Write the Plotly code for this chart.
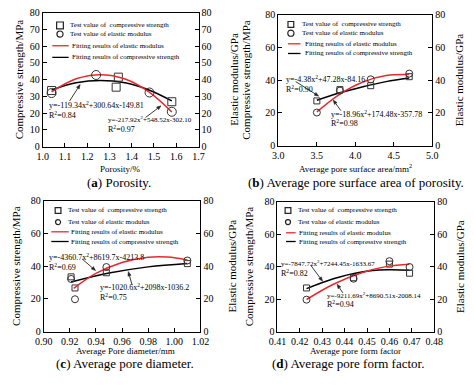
import math
import plotly.graph_objects as go

W, H = 474, 389
FONT = "Liberation Serif"
RED = "#e8282f"

# ---------------- data ----------------
# (a) Porosity
a_cs_x = [1.04, 1.33, 1.34, 1.58]
a_cs_y = [33.5, 35.5, 41.5, 26.8]
a_em_x = [1.04, 1.24, 1.48, 1.58]
a_em_y = [32.0, 42.8, 32.3, 20.8]
a_fit_em_x = [1.04, 1.15, 1.26, 1.37, 1.48, 1.58]
a_fit_em_y = [32.7, 40.5, 43.0, 40.4, 32.4, 20.6]
a_fit_cs_x = [1.04, 1.15, 1.26, 1.37, 1.48, 1.58]
a_fit_cs_y = [33.8, 38.1, 39.5, 38.1, 33.7, 27.3]

# (b) Average pore surface area
b_cs_x = [3.5, 3.8, 4.2, 4.7]
b_cs_y = [27.3, 34.2, 36.6, 42.1]
b_em_x = [3.5, 3.8, 4.2, 4.7]
b_em_y = [20.2, 33.6, 40.5, 44.0]
b_fit_em_x = [3.5, 3.8, 4.1, 4.4, 4.7]
b_fit_em_y = [20.6, 31.5, 38.9, 42.8, 43.4]
b_fit_cs_x = [3.5, 3.8, 4.1, 4.4, 4.7]
b_fit_cs_y = [27.7, 32.3, 36.0, 39.1, 41.3]

# (c) Average pore diameter
c_cs_x = [0.921, 0.924, 0.948, 1.01]
c_cs_y = [33.5, 26.7, 36.0, 41.6]
c_em_x = [0.921, 0.924, 0.948, 1.01]
c_em_y = [32.2, 19.8, 39.5, 43.5]
c_fit_em_x = [0.923, 0.94, 0.96, 0.98, 0.995, 1.01]
c_fit_em_y = [26.5, 35.6, 42.3, 45.5, 45.6, 43.8]
c_fit_cs_x = [0.921, 0.95, 0.98, 1.01]
c_fit_cs_y = [30.3, 35.8, 39.6, 41.7]

# (d) Average pore form factor
d_cs_x = [0.423, 0.444, 0.46, 0.469]
d_cs_y = [26.9, 33.2, 41.6, 36.0]
d_em_x = [0.423, 0.444, 0.46, 0.469]
d_em_y = [19.7, 32.6, 43.4, 39.8]
d_fit_em_x = [0.423, 0.435, 0.447, 0.459, 0.469]
d_fit_em_y = [19.8, 29.2, 36.0, 40.2, 41.5]
d_fit_cs_x = [0.423, 0.435, 0.447, 0.459, 0.469]
d_fit_cs_y = [26.5, 32.6, 36.6, 38.1, 37.8]

legend_labels = ["Test value of\u00a0 compressive strength",
                 "Test value of elastic modulus",
                 "Fitting results of elastic modulus",
                 "Fitting results of compressive strength"]

x_titles = ["Porosity/%", "Average pore surface area/mm<sup>2</sup>",
            "Average Pore diameter/mm", "Average pore form factor"]
captions = ["(<b>a</b>) Porosity.", "(<b>b</b>) Average pore surface area of porosity.",
            "(<b>c</b>) Average pore diameter.", "(<b>d</b>) Average pore form factor."]
equations = [
    ["y=-119.34x<sup>2</sup>+300.64x-149.81", "R<sup>2</sup>=0.84",
     "y=-217.92x<sup>2</sup>+548.52x-302.10", "R<sup>2</sup>=0.97"],
    ["y=-4.38x<sup>2</sup>+47.28x-84.16", "R<sup>2</sup>=0.90",
     "y=-18.96x<sup>2</sup>+174.48x-357.78", "R<sup>2</sup>=0.98"],
    ["y=-4360.7x<sup>2</sup>+8619.7x-4213.8", "R<sup>2</sup>=0.69",
     "y=-1020.6x<sup>2</sup>+2098x-1036.2", "R<sup>2</sup>=0.75"],
    ["y=-7847.72x<sup>2</sup>+7244.45x-1633.67", "R<sup>2</sup>=0.82",
     "y=-9211.69x<sup>2</sup>+8690.51x-2008.14", "R<sup>2</sup>=0.94"],
]
x_ranges = [[1.0, 1.7], [3.0, 5.0], [0.90, 1.02], [0.41, 0.48]]
x_dticks = [0.1, 0.5, 0.02, 0.01]
x_fmts = [".1f", ".1f", ".2f", ".2f"]
y_dticks = [10, 20, 20, 20]

# ---------------- layout geometry (pixels) ----------------
boxes = [(35, 197, 7, 145), (280, 440, 9, 144), (36, 199, 201, 336), (279, 442, 202, 336)]
marker_sizes = [8, 6, 6, 6]
left_title_x = [10, 247, 8, 249]
right_title_x = [234, 468, 232, 468]
xtitle_pos = [(116, 168), (360, 167), (121, 356), (360, 356)]
caption_pos = [(114, 182), (361, 182), (121, 369), (352, 369)]


def px(x):
    return x / W


def py(y):
    return 1 - y / H


panels = [
    (a_cs_x, a_cs_y, a_em_x, a_em_y, a_fit_em_x, a_fit_em_y, a_fit_cs_x, a_fit_cs_y),
    (b_cs_x, b_cs_y, b_em_x, b_em_y, b_fit_em_x, b_fit_em_y, b_fit_cs_x, b_fit_cs_y),
    (c_cs_x, c_cs_y, c_em_x, c_em_y, c_fit_em_x, c_fit_em_y, c_fit_cs_x, c_fit_cs_y),
    (d_cs_x, d_cs_y, d_em_x, d_em_y, d_fit_em_x, d_fit_em_y, d_fit_cs_x, d_fit_cs_y),
]

fig = go.Figure()
layout = dict(
    width=W, height=H, margin=dict(l=0, r=0, t=0, b=0),
    paper_bgcolor="white", plot_bgcolor="white", showlegend=False,
    font=dict(family=FONT, color="black", size=10),
)
annotations = []
shapes = []

for i, (cx, cy, ex, ey, fex, fey, fcx, fcy) in enumerate(panels):
    n = i + 1
    xa = "x" if n == 1 else f"x{n}"
    yl = 2 * n - 1
    yr = 2 * n
    yla = "y" if yl == 1 else f"y{yl}"
    yra = f"y{yr}"
    l, r, t, b = boxes[i]
    ms = marker_sizes[i]
    # compressive strength -> left axis (MPa); elastic modulus -> right axis (GPa)
    fig.add_trace(go.Scatter(x=fcx, y=fcy, mode="lines", line=dict(color="black", width=1.5, shape="spline"),
                             xaxis=xa, yaxis=yla))
    fig.add_trace(go.Scatter(x=fex, y=fey, mode="lines", line=dict(color=RED, width=1.5, shape="spline"),
                             xaxis=xa, yaxis=yra))
    fig.add_trace(go.Scatter(x=cx, y=cy, mode="markers",
                             marker=dict(symbol="square-open", size=ms, color="#333", line=dict(width=1)),
                             xaxis=xa, yaxis=yla))
    fig.add_trace(go.Scatter(x=ex, y=ey, mode="markers",
                             marker=dict(symbol="circle-open", size=ms + 1, color="#333", line=dict(width=1)),
                             xaxis=xa, yaxis=yra))
    xkey = "xaxis" if n == 1 else f"xaxis{n}"
    ylkey = "yaxis" if yl == 1 else f"yaxis{yl}"
    yrkey = f"yaxis{yr}"
    tickfont = dict(family=FONT, size=10, color="black")
    layout[xkey] = dict(domain=[px(l), px(r)], anchor=yla, range=x_ranges[i], dtick=x_dticks[i],
                        tick0=x_ranges[i][0], tickformat=x_fmts[i], showline=True, linecolor="black",
                        linewidth=1, mirror=True, ticks="inside", ticklen=4, tickcolor="black",
                        showgrid=False, zeroline=False, tickfont=tickfont)
    layout[ylkey] = dict(domain=[py(b), py(t)], anchor=xa, range=[0, 80], dtick=y_dticks[i],
                         showline=True, linecolor="black", linewidth=1, ticks="inside", ticklen=4,
                         tickcolor="black", showgrid=False, zeroline=False, tickfont=tickfont)
    layout[yrkey] = dict(overlaying=yla, anchor=xa, side="right", range=[0, 80], dtick=y_dticks[i],
                         showline=True, linecolor="black", linewidth=1, ticks="inside", ticklen=4,
                         tickcolor="black", showgrid=False, zeroline=False, tickfont=tickfont)

    annotations.append(dict(text=x_titles[i], x=px(xtitle_pos[i][0]), y=py(xtitle_pos[i][1]),
                            xref="paper", yref="paper", showarrow=False, font=dict(size=9),
                            xanchor="center", yanchor="middle"))
    annotations.append(dict(text="Compressive strength/MPa", x=px(left_title_x[i]), y=py((t + b) / 2),
                            xref="paper", yref="paper", showarrow=False, textangle=-90, font=dict(size=11),
                            xanchor="center", yanchor="middle"))
    annotations.append(dict(text="Elastic modulus/GPa", x=px(right_title_x[i]), y=py((t + b) / 2),
                            xref="paper", yref="paper", showarrow=False, textangle=-90, font=dict(size=11),
                            xanchor="center", yanchor="middle"))
    annotations.append(dict(text=captions[i], x=px(caption_pos[i][0]), y=py(caption_pos[i][1]),
                            xref="paper", yref="paper", showarrow=False, font=dict(size=13),
                            xanchor="center", yanchor="middle"))

# ---------------- legends (drawn manually) ----------------
leg_rows = [[20, 29, 41, 53], [19, 28, 39, 49], [211, 223, 233, 243], [211, 223, 234, 243]]
leg_sym_x = [53, 293, 51, 290]
leg_txt_x = [(61, 63), (302, 306), (59, 62), (298, 299)]
leg_line = [(45, 62), (290, 303), (44, 62), (288, 298)]
for i in range(4):
    rows = leg_rows[i]
    sx = leg_sym_x[i]
    s = 3.5 if i == 0 else 3
    shapes.append(dict(type="rect", xref="paper", yref="paper", x0=px(sx - s), x1=px(sx + s),
                       y0=py(rows[0] + s), y1=py(rows[0] - s), line=dict(color="#222", width=1.2)))
    cs = 3.2 if i < 2 else 2.6
    shapes.append(dict(type="circle", xref="paper", yref="paper", x0=px(sx - cs), x1=px(sx + cs),
                       y0=py(rows[1] + cs), y1=py(rows[1] - cs), line=dict(color="#222", width=1.2)))
    x0, x1 = leg_line[i]
    shapes.append(dict(type="line", xref="paper", yref="paper", x0=px(x0), x1=px(x1),
                       y0=py(rows[2]), y1=py(rows[2]), line=dict(color=RED, width=1.3)))
    shapes.append(dict(type="line", xref="paper", yref="paper", x0=px(x0), x1=px(x1),
                       y0=py(rows[3]), y1=py(rows[3]), line=dict(color="black", width=1.3)))
    for k in range(4):
        tx = leg_txt_x[i][0] if k < 2 else leg_txt_x[i][1]
        annotations.append(dict(text=legend_labels[k], x=px(tx), y=py(rows[k]), xref="paper", yref="paper",
                                showarrow=False, xanchor="left", yanchor="middle",
                                font=dict(size=7)))

# ---------------- equation labels with arrows ----------------
eq_pos = [
    [(40, 102), (40, 112), (101, 117), (101, 127)],
    [(286, 75), (286, 86), (333, 111), (333, 121)],
    [(39, 259), (39, 269), (93, 290), (93, 300)],
    [(281, 266), (281, 275), (328, 299), (328, 308)],
]
eq_font = [[8, 8, 7, 8], [8, 8, 8, 8], [8, 8, 8, 8], [7, 8, 7, 8]]
arrows = [
    [((63, 98), (74, 81)), ((142, 115), (158, 103))],
    [((298, 78), (322, 93)), ((345, 108), (337, 97))],
    [((76, 261), (90, 273)), ((128, 288), (124, 274))],
    [((314, 268), (326, 284)), ((347, 296), (341, 287))],
]
for i in range(4):
    for k in range(4):
        x, y = eq_pos[i][k]
        annotations.append(dict(text=equations[i][k], x=px(x), y=py(y), xref="paper", yref="paper",
                                showarrow=False, xanchor="left", yanchor="middle",
                                font=dict(size=eq_font[i][k])))
    for (tx, ty), (hx, hy) in arrows[i]:
        dx, dy = hx - tx, hy - ty
        dl = math.hypot(dx, dy)
        ux, uy = dx / dl, dy / dl
        bx, by = hx - ux * 4.5, hy - uy * 4.5
        nx, ny = -uy * 1.7, ux * 1.7
        shapes.append(dict(type="line", xref="paper", yref="paper", x0=px(tx), y0=py(ty),
                           x1=px(bx), y1=py(by), line=dict(color="#222", width=0.9)))
        path = (f"M {px(hx)} {py(hy)} L {px(bx + nx)} {py(by + ny)} "
                f"L {px(bx - nx)} {py(by - ny)} Z")
        shapes.append(dict(type="path", xref="paper", yref="paper", path=path,
                           fillcolor="#222", line=dict(color="#222", width=0.5)))

layout["annotations"] = annotations
layout["shapes"] = shapes
fig.update_layout(**layout)
fig.write_html("out.html", config={"displayModeBar": False},
               post_script="document.body.style.margin='0';document.body.style.overflow='hidden';")
